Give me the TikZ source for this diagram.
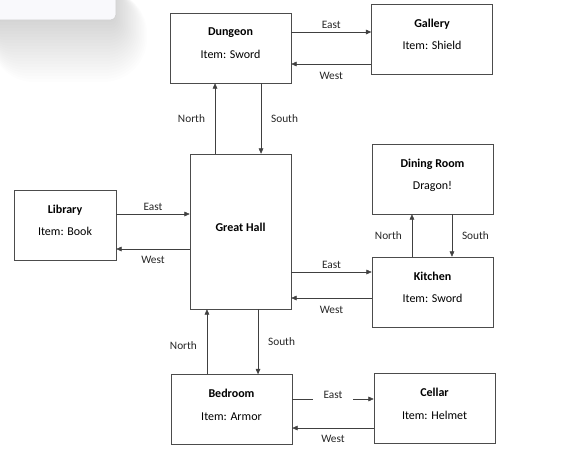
\documentclass[tikz,border=0pt]{standalone}
\usepackage{fontspec}
\setmainfont{Carlito}
\usetikzlibrary{arrows.meta}
\definecolor{panel}{HTML}{F9F9FC}
\begin{document}
\begin{tikzpicture}[x=0.75pt,y=-0.75pt,
  room/.style={draw=black!70, minimum width=90.75pt, minimum height=52.5pt, align=center, inner sep=0pt, text depth=7pt, font=\fontsize{9}{17}\selectfont},
  move/.style={draw=black!75, -{Triangle[length=4pt,width=3.5pt]}},
  dir/.style={font=\fontsize{8.5}{10}\selectfont, text=black!85}]
\useasboundingbox (0,0) rectangle (563,465);
% window in the corner
\foreach \i in {1,...,22}
  \fill[black, opacity=0.009, rounded corners=1.5*\i] (-10,-10) rectangle (112+1.6*\i, 16+3*\i);
\fill[panel, draw=black!20, rounded corners=4pt] (-5,-10) rectangle (116,20);

\node[room] (dungeon) at (230.5,48) {\textbf{Dungeon}\\Item: Sword};
\node[room] (gallery) at (432,39) {\textbf{Gallery}\\Item: Shield};
\node[room] (dining) at (432.5,179) {\textbf{Dining Room}\\Dragon!};
\node[room, minimum width=76.5pt] (library) at (65,225) {\textbf{Library}\\Item: Book};
\node[room, minimum width=75.75pt, minimum height=116.25pt, text depth=6.5pt] (hall) at (240.5,231.5) {\textbf{Great Hall}};
\node[room] (kitchen) at (432.5,292) {\textbf{Kitchen}\\Item: Sword};
\node[room] (bedroom) at (231.5,409.5) {\textbf{Bedroom}\\Item: Armor};
\node[room] (cellar) at (434.5,408.5) {\textbf{Cellar}\\Item: Helmet};

\path[move] ([yshift=12pt]dungeon.east) -- ([yshift=12pt]dungeon.east -| gallery.west) node[dir, midway, above=-1pt] {East};
\path[move] ([yshift=-12pt]dungeon.east -| gallery.west) -- ([yshift=-12pt]dungeon.east) node[dir, midway, below=3pt] {West};
\path[move] ([xshift=-11.6pt]dungeon.south |- hall.north) -- ([xshift=-11.6pt]dungeon.south) node[dir, midway, left=4pt] {North};
\path[move] ([xshift=22.9pt]dungeon.south) -- ([xshift=22.9pt]dungeon.south |- hall.north) node[dir, midway, right=4pt] {South};

\path[move] ([yshift=8.25pt]library.east) -- ([yshift=8.25pt]library.east -| hall.west) node[dir, midway, above=-1pt] {East};
\path[move] ([yshift=-18pt]library.east -| hall.west) -- ([yshift=-18pt]library.east) node[dir, midway, below=2pt] {West};

\path[move] ([yshift=15pt]kitchen.west -| hall.east) -- ([yshift=15pt]kitchen.west) node[dir, midway, above=-1pt] {East};
\path[move] ([yshift=-4.5pt]kitchen.west) -- ([yshift=-4.5pt]kitchen.west -| hall.east) node[dir, midway, below=3pt] {West};
\path[move] ([xshift=-15.4pt]kitchen.north) -- ([xshift=-15.4pt]kitchen.north |- dining.south) node[dir, midway, left=4pt] {North};
\path[move] ([xshift=14.6pt]kitchen.north |- dining.south) -- ([xshift=14.6pt]kitchen.north) node[dir, midway, right=4pt] {South};

\path[move] ([xshift=19.9pt]bedroom.north |- hall.south) -- ([xshift=19.9pt]bedroom.north) node[dir, midway, right=4pt] {South};
\path[move] ([xshift=-18.4pt]bedroom.north) -- ([xshift=-18.4pt]bedroom.north |- hall.south) node[dir, midway, left=4pt, yshift=-3pt] {North};
\path[move] ([yshift=7.9pt]bedroom.east) -- ([yshift=7.9pt]bedroom.east -| cellar.west) node[dir, midway, fill=white, inner xsep=8pt, yshift=3pt] {East};
\path[move] ([yshift=-13.9pt]bedroom.east -| cellar.west) -- ([yshift=-13.9pt]bedroom.east) node[dir, midway, below=1.5pt] {West};
\end{tikzpicture}
\end{document}
